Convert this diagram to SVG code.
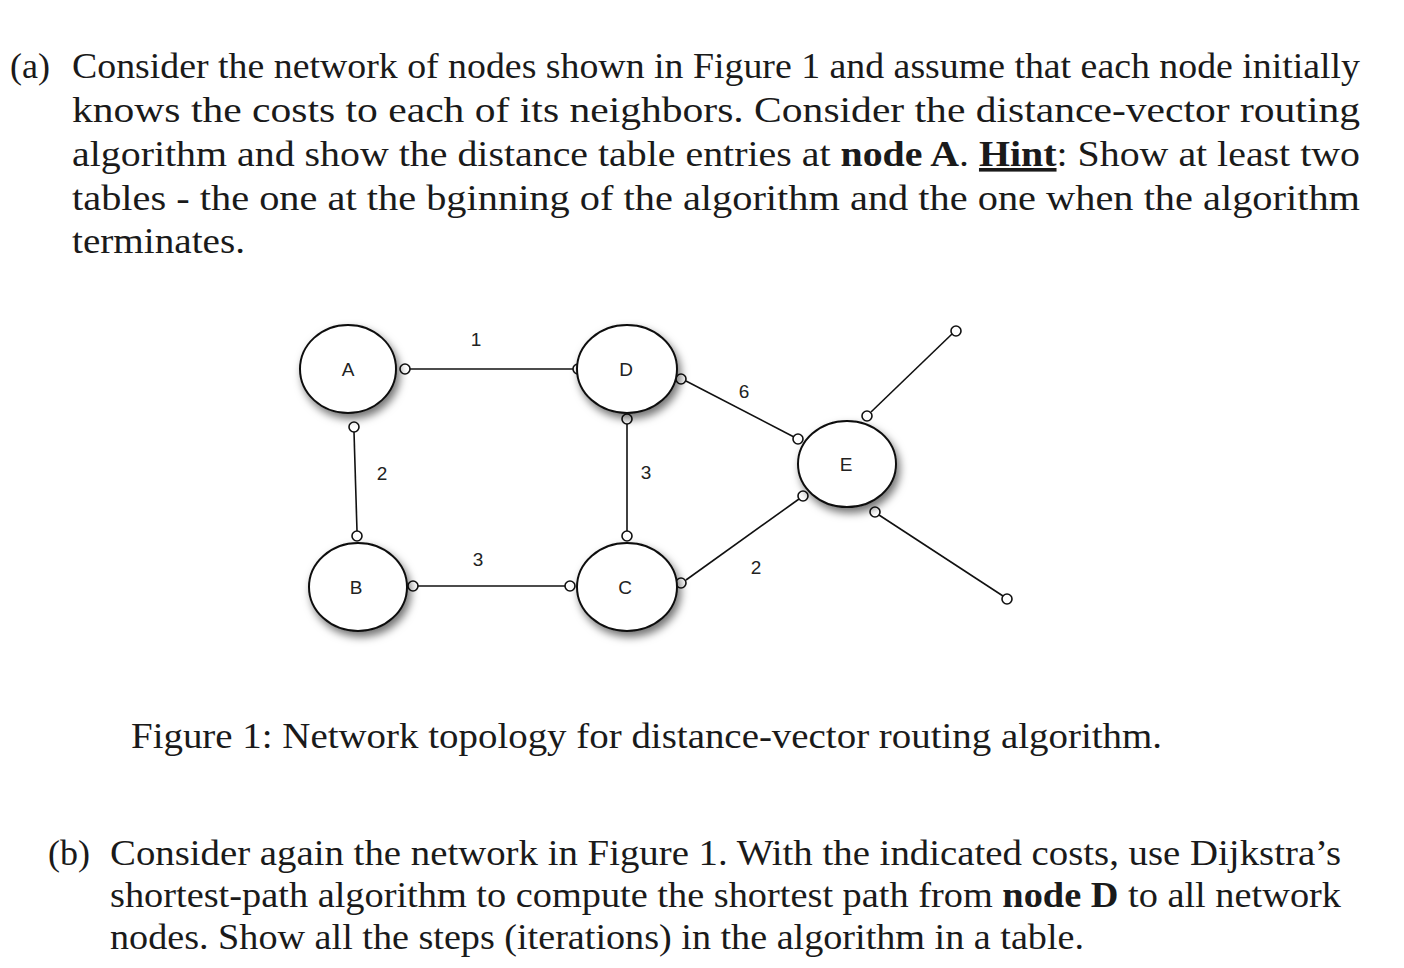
<svg xmlns="http://www.w3.org/2000/svg" width="1404" height="968" viewBox="0 0 1404 968">
<style>
.t{font-family:"Liberation Serif","DejaVu Serif",serif;font-size:36px;fill:#1a1a1a}
.b{font-weight:bold}
.n{fill:#fff;stroke:#111;stroke-width:2;filter:url(#sh)}
.nl{font-family:"Liberation Sans",Arial,sans-serif;font-size:19px;fill:#222;text-anchor:middle;dominant-baseline:central}
.el{font-family:"Liberation Sans",Arial,sans-serif;font-size:19px;fill:#222;text-anchor:middle;dominant-baseline:central}
.e{stroke:#111;stroke-width:1.6;fill:none}
.p{fill:#fff;stroke:#111;stroke-width:1.6}
</style>
<defs>
<filter id="sh" x="-30%" y="-30%" width="170%" height="170%">
<feDropShadow dx="3" dy="5" stdDeviation="4" flood-color="#000" flood-opacity="0.55"/>
</filter>
</defs>
<rect width="1404" height="968" fill="#fff"/>

<g id="text-a">
<text class="t" x="10" y="78">(a)</text>
<text class="t" x="72" y="78" textLength="1288" lengthAdjust="spacingAndGlyphs">Consider the network of nodes shown in Figure 1 and assume that each node initially</text>
<text class="t" x="72" y="122" textLength="1288" lengthAdjust="spacingAndGlyphs">knows  the  costs  to  each  of  its  neighbors.   Consider  the  distance-vector  routing</text>
<text class="t" x="72" y="166" textLength="1288" lengthAdjust="spacingAndGlyphs">algorithm and show the distance table entries at <tspan class="b">node A</tspan>. <tspan class="b" text-decoration="underline">Hint</tspan>: Show at least two</text>
<text class="t" x="72" y="210" textLength="1288" lengthAdjust="spacingAndGlyphs">tables - the one at the bginning of the algorithm and the one when the algorithm</text>
<text class="t" x="72" y="253" textLength="173" lengthAdjust="spacingAndGlyphs">terminates.</text>
</g>

<g id="connectors">
<line class="e" x1="410" y1="369" x2="573" y2="369"/>
<line class="e" x1="354" y1="432" x2="357" y2="531"/>
<line class="e" x1="627" y1="424" x2="627" y2="531"/>
<line class="e" x1="418" y1="586" x2="565" y2="586"/>
<line class="e" x1="686" y1="381" x2="794" y2="437"/>
<line class="e" x1="686" y1="580" x2="799" y2="499"/>
<line class="e" x1="871" y1="412" x2="952" y2="334"/>
<line class="e" x1="879" y1="515" x2="1003" y2="596"/>
<circle class="p" cx="405" cy="369" r="5"/>
<circle class="p" cx="578" cy="369" r="5"/>
<circle class="p" cx="354" cy="427" r="5"/>
<circle class="p" cx="357" cy="536" r="5"/>
<circle class="p" cx="627" cy="419" r="5"/>
<circle class="p" cx="627" cy="536" r="5"/>
<circle class="p" cx="413" cy="586" r="5"/>
<circle class="p" cx="570" cy="586" r="5"/>
<circle class="p" cx="681" cy="379" r="5"/>
<circle class="p" cx="798" cy="439" r="5"/>
<circle class="p" cx="681" cy="583" r="5"/>
<circle class="p" cx="803" cy="496" r="5"/>
<circle class="p" cx="867" cy="416" r="5"/>
<circle class="p" cx="956" cy="331" r="5"/>
<circle class="p" cx="875" cy="512" r="5"/>
<circle class="p" cx="1007" cy="599" r="5"/>
<text class="el" x="476" y="339">1</text>
<text class="el" x="382" y="473">2</text>
<text class="el" x="646" y="472">3</text>
<text class="el" x="478" y="559">3</text>
<text class="el" x="744" y="391">6</text>
<text class="el" x="756" y="567">2</text>
</g>

<g id="node-A"><ellipse class="n" cx="348" cy="369" rx="48" ry="44"/><text class="nl" x="348" y="369">A</text></g>
<g id="node-D"><ellipse class="n" cx="627" cy="369" rx="50" ry="44"/><text class="nl" x="626" y="369">D</text></g>
<g id="node-B"><ellipse class="n" cx="358" cy="587" rx="49" ry="44"/><text class="nl" x="356" y="587">B</text></g>
<g id="node-C"><ellipse class="n" cx="627" cy="587" rx="50" ry="44"/><text class="nl" x="625" y="587">C</text></g>
<g id="node-E"><ellipse class="n" cx="847" cy="464" rx="49" ry="43"/><text class="nl" x="846" y="464">E</text></g>

<g id="caption">
<text class="t" x="131" y="748" textLength="1031" lengthAdjust="spacingAndGlyphs">Figure 1: Network topology for distance-vector routing algorithm.</text>
</g>

<g id="text-b">
<text class="t" x="48" y="865">(b)</text>
<text class="t" x="110" y="865" textLength="1231" lengthAdjust="spacingAndGlyphs">Consider again the network in Figure 1.  With the indicated costs, use Dijkstra’s</text>
<text class="t" x="110" y="907" textLength="1231" lengthAdjust="spacingAndGlyphs">shortest-path algorithm to compute the shortest path from <tspan class="b">node D</tspan> to all network</text>
<text class="t" x="110" y="949" textLength="974" lengthAdjust="spacingAndGlyphs">nodes. Show all the steps (iterations) in the algorithm in a table.</text>
</g>
</svg>
